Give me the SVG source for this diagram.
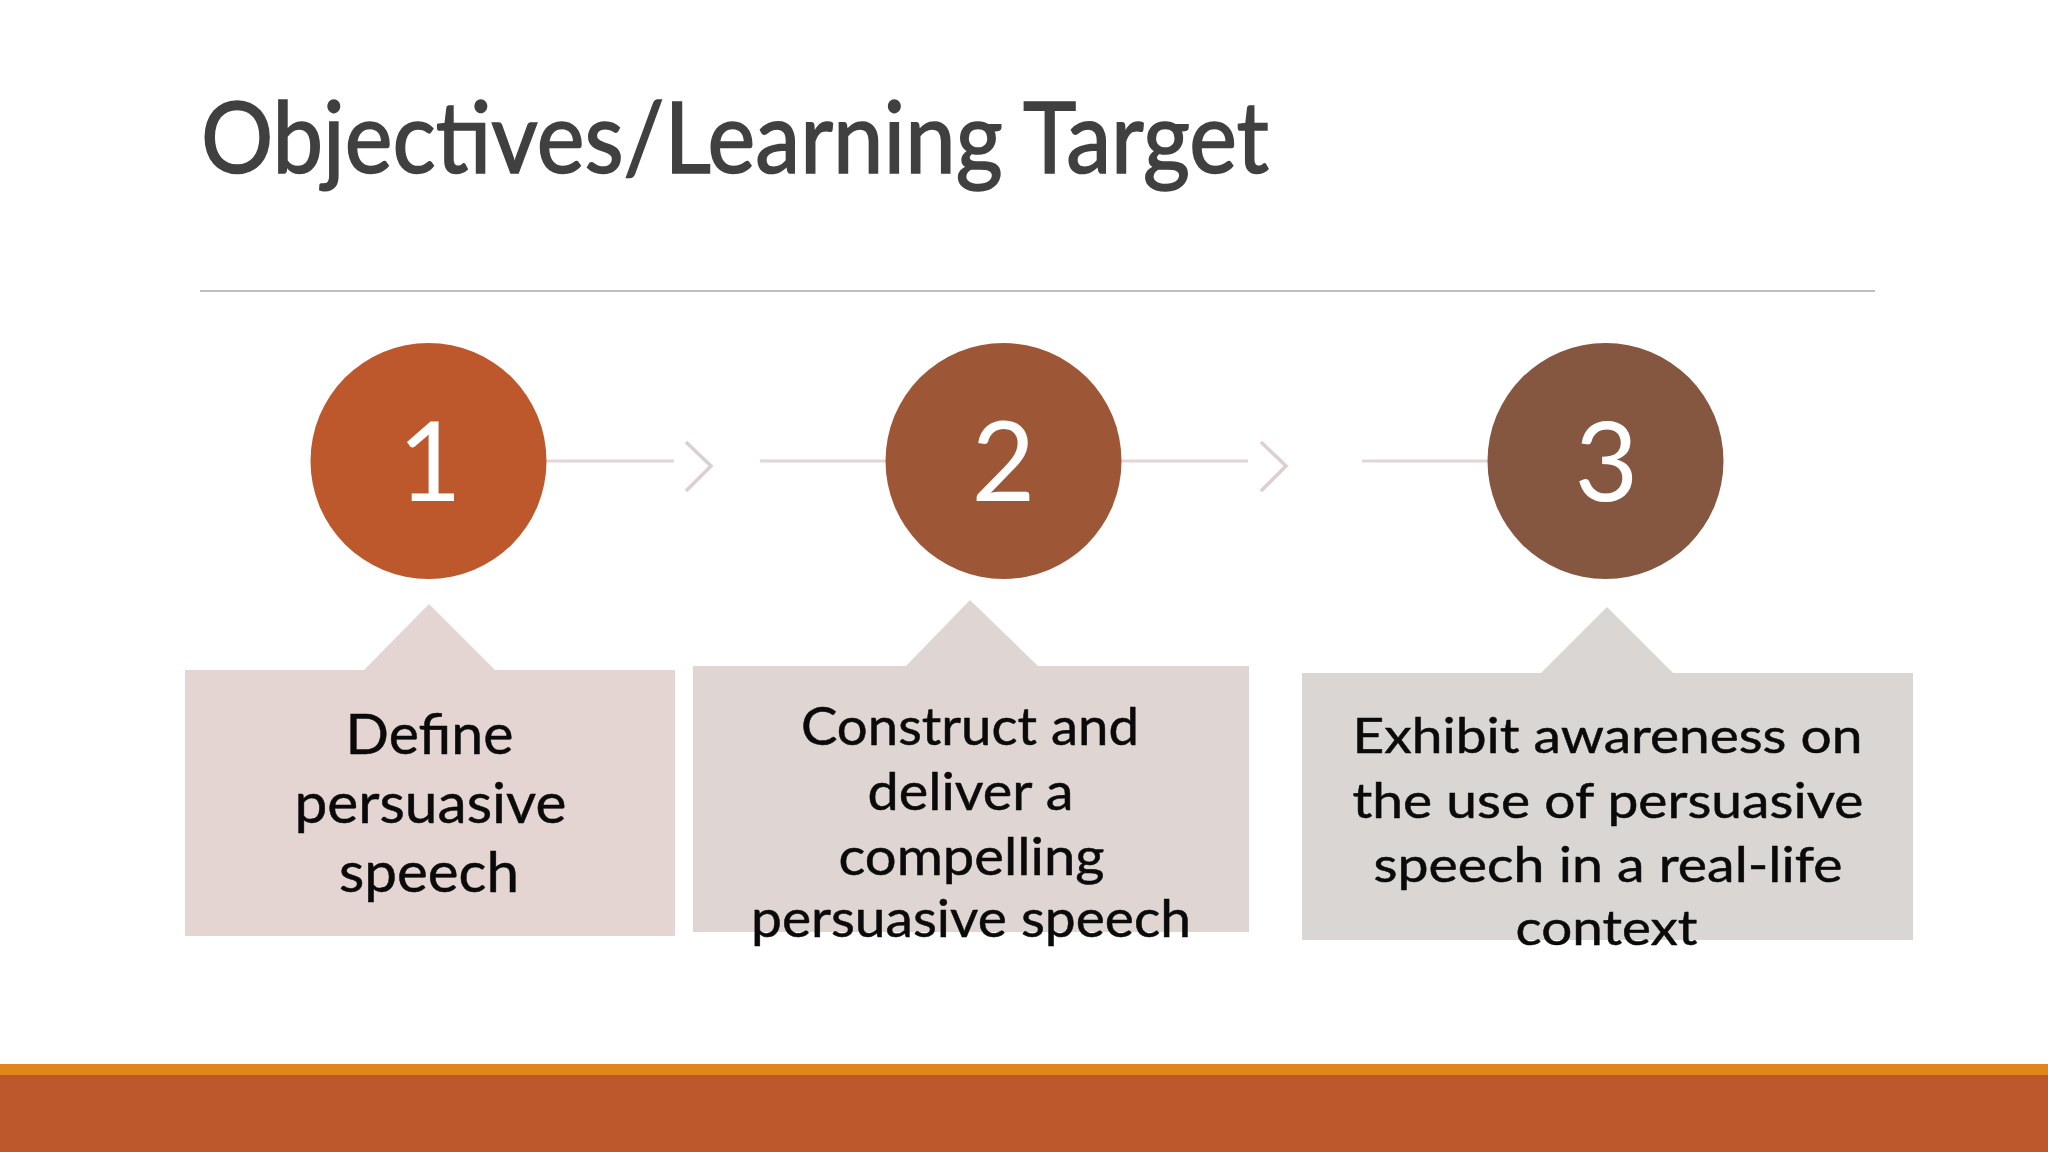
<svg xmlns="http://www.w3.org/2000/svg" width="2048" height="1152" viewBox="0 0 2048 1152">
  <style>
    .title { font-family: Lato, "Open Sans", "Liberation Sans", sans-serif; font-size: 98px; fill: #404040; stroke: #404040; stroke-width: 1.6; }
    .num { font-family: Lato, "Open Sans", "Liberation Sans", sans-serif; font-size: 110px; fill: #ffffff; text-anchor: middle; }
    .body { font-family: Lato, "Open Sans", "Liberation Sans", sans-serif; fill: #0a0a0a; stroke: #0a0a0a; stroke-width: 0.5; text-anchor: middle; }
    .conn { stroke: #e2d7d6; stroke-width: 3; fill: none; }
    .chev { stroke: #dccfcf; stroke-width: 3.5; fill: none; stroke-linecap: butt; }
  </style>
  <rect x="0" y="0" width="2048" height="1152" fill="#ffffff"/>

  <g id="title">
    <text class="title" x="201" y="173" textLength="1068" lengthAdjust="spacingAndGlyphs">Objectives/Learning Target</text>
  </g>
  <g id="divider">
    <line x1="200" y1="291" x2="1875" y2="291" stroke="#a8a8a8" stroke-width="1.5"/>
  </g>

  <g id="connectors">
    <line class="conn" x1="546" y1="461" x2="674" y2="461"/>
    <polyline class="chev" points="686,442 711,466 686,491"/>
    <line class="conn" x1="760" y1="461" x2="886" y2="461"/>
    <line class="conn" x1="1121" y1="461" x2="1248" y2="461"/>
    <polyline class="chev" points="1261,442 1286,466 1261,491"/>
    <line class="conn" x1="1362" y1="461" x2="1488" y2="461"/>
  </g>

  <g id="node-1">
    <circle cx="428.5" cy="461" r="118" fill="#bc582c"/>
    <text class="num" x="430" y="501">1</text>
  </g>
  <g id="node-2">
    <circle cx="1003.5" cy="461" r="118" fill="#9e5736"/>
    <text class="num" x="1003.5" y="501">2</text>
  </g>
  <g id="node-3">
    <circle cx="1605.5" cy="461" r="118" fill="#855640"/>
    <text class="num" x="1606.5" y="501">3</text>
  </g>

  <g id="box-1">
    <path d="M185,670 H364 L429,604 L495,670 H675 V936 H185 Z" fill="#e4d5d3"/>
    <g class="body" font-size="57">
      <text x="429.5" y="754" textLength="168" lengthAdjust="spacingAndGlyphs">Define</text>
      <text x="430.5" y="823" textLength="272" lengthAdjust="spacingAndGlyphs">persuasive</text>
      <text x="429" y="892" textLength="180" lengthAdjust="spacingAndGlyphs">speech</text>
    </g>
  </g>

  <g id="box-2">
    <path d="M693,666 H906 L970,600 L1038,666 H1249 V932 H693 Z" fill="#dfd5d3"/>
    <g class="body" font-size="52">
      <text x="970" y="745" textLength="338" lengthAdjust="spacingAndGlyphs">Construct and</text>
      <text x="970.5" y="810" textLength="206" lengthAdjust="spacingAndGlyphs">deliver a</text>
      <text x="971.5" y="875" textLength="266" lengthAdjust="spacingAndGlyphs">compelling</text>
      <text x="971" y="937" textLength="440" lengthAdjust="spacingAndGlyphs">persuasive speech</text>
    </g>
  </g>

  <g id="box-3">
    <path d="M1302,673 H1541 L1607,607 L1673,673 H1913 V940 H1302 Z" fill="#dad6d4"/>
    <g class="body" font-size="49">
      <text x="1607.5" y="753" textLength="510" lengthAdjust="spacingAndGlyphs">Exhibit awareness on</text>
      <text x="1608" y="818" textLength="511" lengthAdjust="spacingAndGlyphs">the use of persuasive</text>
      <text x="1608" y="882" textLength="469" lengthAdjust="spacingAndGlyphs">speech in a real-life</text>
      <text x="1606.5" y="945" textLength="182" lengthAdjust="spacingAndGlyphs">context</text>
    </g>
  </g>

  <g id="footer">
    <rect x="0" y="1064" width="2048" height="11" fill="#e0861a"/>
    <rect x="0" y="1075" width="2048" height="77" fill="#bc582c"/>
  </g>
</svg>
